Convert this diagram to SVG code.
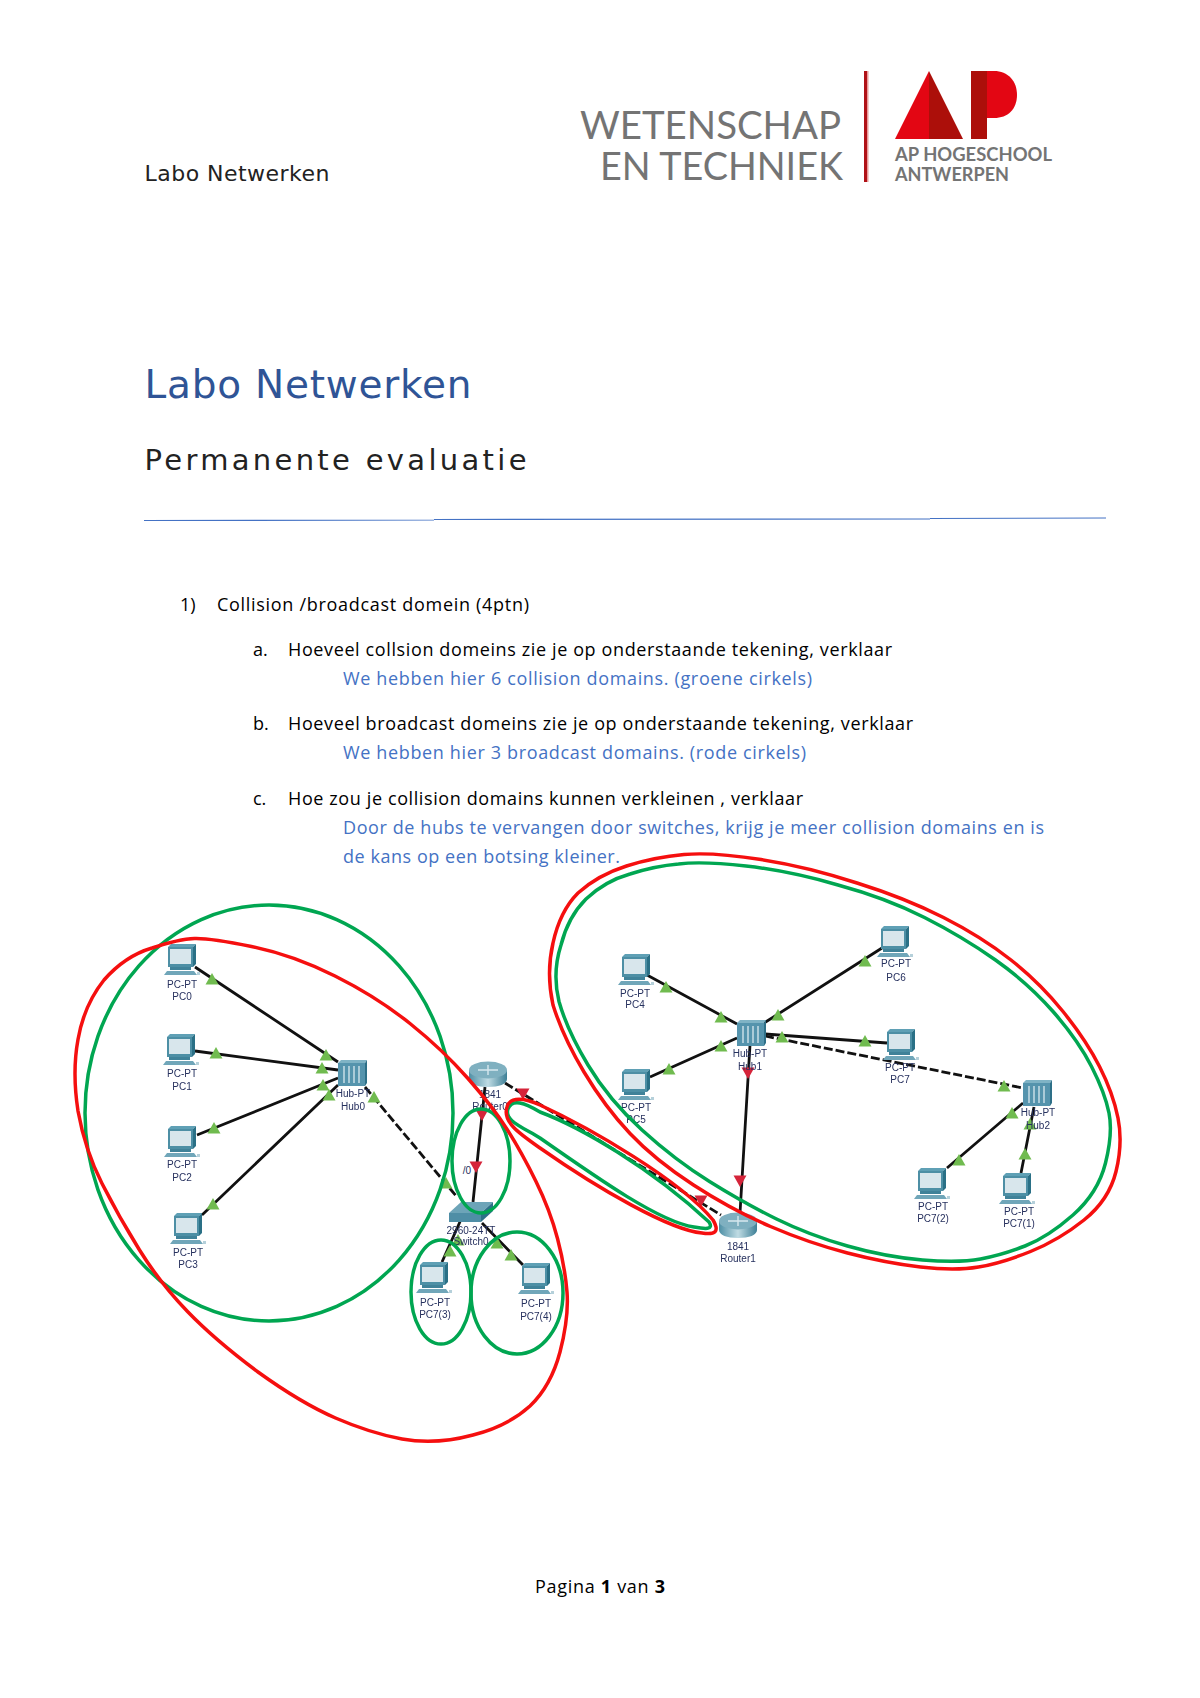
<svg xmlns="http://www.w3.org/2000/svg" width="1200" height="1698" viewBox="0 0 1200 1698">
<style>
.h{font-family:"DejaVu Sans",sans-serif;fill:#222}
.b{font-family:"Open Sans","Noto Sans",sans-serif;font-size:18px;fill:#000}
.bl{font-family:"Open Sans","Noto Sans",sans-serif;font-size:18px;fill:#4472c4}
.lb{font-family:"Liberation Sans",sans-serif;font-size:10px;fill:#26305e;text-anchor:middle}
.lg{font-family:Lato,sans-serif;fill:#747474}
.l{stroke:#111;stroke-width:2.8;fill:none}
.d{stroke:#111;stroke-width:2.8;fill:none;stroke-dasharray:9 3}
.g{fill:none;stroke:#00a651;stroke-width:3.5}
.r{fill:none;stroke:#f50f0f;stroke-width:3.5}
.tg{fill:#70bb4f}
.tr{fill:#d5243a}
.nw{filter:url(#soft)}
</style>
<defs>
<filter id="soft" x="0" y="0" width="1" height="1"><feGaussianBlur stdDeviation="0.45"/></filter>
<linearGradient id="rg" x1="0" x2="1" y1="0" y2="0"><stop offset="0" stop-color="#4d8fa5"/><stop offset=".5" stop-color="#bfdbe3"/><stop offset="1" stop-color="#3d7f96"/></linearGradient>
<g id="pc">
<polygon points="4,3 7,0 32,0 29,3" fill="#5fa0b5"/>
<polygon points="29,3 32,0 32,20 29,23" fill="#2a6f86"/>
<rect x="4" y="3" width="25" height="20" fill="#4d8fa5"/>
<rect x="6" y="5" width="21" height="15" fill="#d8e6ec"/>
<rect x="6" y="23" width="21" height="3" fill="#3f8299"/>
<polygon points="3,27 30,27 33,31 0,31" fill="#6fa6b9"/>
<rect x="33" y="28" width="3" height="3" fill="#b5d0da"/>
</g>
<g id="hub">
<polygon points="0,3 3,0 29,0 27,3" fill="#7fb3c5"/>
<rect x="0" y="3" width="27" height="23" fill="#5594ad"/>
<polygon points="27,3 29,0 29,23 27,26" fill="#2f7088"/>
<path d="M6 6V23M11 6V23M16 6V23M21 6V23" stroke="#cfe3ea" stroke-width="1.4"/>
</g>
<g id="router">
<path d="M0 9V18C0 23 8 26 19 26S38 23 38 18V9Z" fill="url(#rg)"/>
<ellipse cx="19" cy="9" rx="19" ry="8.5" fill="#7fb0c0"/>
<path d="M9 9H29M19 4V14" stroke="#d7e8ee" stroke-width="1.4"/>
</g>
<g id="switch">
<polygon points="0,11 12,0 44,0 32,11" fill="#6da4b8"/>
<polygon points="0,11 32,11 32,20 0,20" fill="#4f8ea6"/>
<polygon points="32,11 44,0 44,9 32,20" fill="#2f7088"/>
</g>
<polygon id="up" points="0,-6 6.5,5.5 -6.5,5.5"/>
<polygon id="dn" points="-6.5,-5.5 6.5,-5.5 0,6"/>
</defs>

<g id="header">
<text class="h" x="144.5" y="181" font-size="22" textLength="185">Labo Netwerken</text>
</g>
<g id="logo">
<text class="lg" x="580" y="139" font-size="38" textLength="261" lengthAdjust="spacingAndGlyphs">WETENSCHAP</text>
<text class="lg" x="600" y="180" font-size="38" textLength="243" lengthAdjust="spacingAndGlyphs">EN TECHNIEK</text>
<rect x="864" y="71" width="3" height="111" fill="#b01116"/>
<rect x="867" y="71" width="1.5" height="111" fill="#e89a9a"/>
<polygon points="895,139 929,71 929,139" fill="#e30613"/>
<polygon points="929,71 963,139 929,139" fill="#ac0f0a"/>
<path d="M987 71H994C1008 71 1017 81 1017 95S1008 118 994 118H987Z" fill="#e30613"/>
<rect x="971" y="71" width="16" height="68" fill="#ac0f0a"/>
<text class="lg" x="895" y="161" font-size="18.5" font-weight="700" textLength="157" lengthAdjust="spacingAndGlyphs">AP HOGESCHOOL</text>
<text class="lg" x="895" y="181" font-size="18.5" font-weight="700" textLength="114" lengthAdjust="spacingAndGlyphs">ANTWERPEN</text>
</g>
<g id="title">
<text x="144.5" y="398" font-family="DejaVu Sans,sans-serif" font-size="39" fill="#2f5496" textLength="327">Labo Netwerken</text>
<text class="h" x="144.5" y="470" font-size="29" textLength="382">Permanente evaluatie</text>
<path d="M144 520.5L434 520M434 519.5L930 519M930 518.5L1106 518" stroke="#4472c4" stroke-width="1.2" fill="none"/>
</g>
<g id="body">
<text class="b" x="180" y="611">1)</text>
<text class="b" x="217" y="611" textLength="312">Collision /broadcast domein (4ptn)</text>
<text class="b" x="253" y="656">a.</text>
<text class="b" x="288" y="656" textLength="604">Hoeveel collsion domeins zie je op onderstaande tekening, verklaar</text>
<text class="bl" x="343" y="685" textLength="469">We hebben hier 6 collision domains. (groene cirkels)</text>
<text class="b" x="253" y="730">b.</text>
<text class="b" x="288" y="730" textLength="625">Hoeveel broadcast domeins zie je op onderstaande tekening, verklaar</text>
<text class="bl" x="343" y="759" textLength="463">We hebben hier 3 broadcast domains. (rode cirkels)</text>
<text class="b" x="253" y="805">c.</text>
<text class="b" x="288" y="805" textLength="515">Hoe zou je collision domains kunnen verkleinen , verklaar</text>
<text class="bl" x="343" y="834" textLength="701">Door de hubs te vervangen door switches, krijg je meer collision domains en is</text>
<text class="bl" x="343" y="863" textLength="277">de kans op een botsing kleiner.</text>
</g>

<g id="connectors">
<path class="l" d="M195 967L338 1062M195 1051L338 1070M197 1135L338 1078M202 1215L338 1085"/>
<path class="d" d="M365 1087L457 1197"/>
<path class="l" d="M485 1087L473 1202M463 1215L442 1262M482 1223L523 1265"/>
<path class="d" d="M505 1083L721 1215"/>
<path class="l" d="M647 975L737 1024M882 948L764 1023M887 1043L765 1034M650 1077L737 1038M750 1045L740 1213M1023 1103L947 1168M1034 1107L1021 1173"/>
<path class="d" d="M765 1036L1023 1088"/>
</g>

<g id="link-lights">
<g class="tg">
<use href="#up" x="212" y="979"/><use href="#up" x="326" y="1055"/><use href="#up" x="216" y="1053"/><use href="#up" x="322" y="1068"/><use href="#up" x="214" y="1128"/><use href="#up" x="323" y="1085"/><use href="#up" x="329" y="1095"/><use href="#up" x="213" y="1204"/><use href="#up" x="374" y="1097"/><use href="#up" x="446" y="1183"/>
<use href="#up" x="450" y="1251"/><use href="#up" x="458" y="1240"/><use href="#up" x="497" y="1243"/><use href="#up" x="511" y="1255"/>
<use href="#up" x="666" y="987"/><use href="#up" x="721" y="1017"/><use href="#up" x="778" y="1015"/><use href="#up" x="865" y="961"/><use href="#up" x="721" y="1046"/><use href="#up" x="669" y="1069"/><use href="#up" x="782" y="1037"/><use href="#up" x="865" y="1041"/><use href="#up" x="1004" y="1086"/><use href="#up" x="1012" y="1113"/><use href="#up" x="959" y="1160"/><use href="#up" x="1030" y="1124"/><use href="#up" x="1025" y="1154"/>
</g>
<g class="tr">
<use href="#dn" x="523" y="1094"/><use href="#dn" x="482" y="1115"/><use href="#dn" x="476" y="1167"/><use href="#dn" x="748" y="1073"/><use href="#dn" x="740" y="1181"/><use href="#dn" x="701" y="1201"/>
</g>
</g>

<g id="PC0" class="nw"><use href="#pc" x="164" y="944"/><text class="lb" x="182" y="988">PC-PT</text><text class="lb" x="182" y="1000">PC0</text></g>
<g id="PC1" class="nw"><use href="#pc" x="163" y="1034"/><text class="lb" x="182" y="1077">PC-PT</text><text class="lb" x="182" y="1090">PC1</text></g>
<g id="PC2" class="nw"><use href="#pc" x="164" y="1126"/><text class="lb" x="182" y="1168">PC-PT</text><text class="lb" x="182" y="1181">PC2</text></g>
<g id="PC3" class="nw"><use href="#pc" x="170" y="1213"/><text class="lb" x="188" y="1256">PC-PT</text><text class="lb" x="188" y="1268">PC3</text></g>
<g id="Hub0" class="nw"><use href="#hub" x="338" y="1060"/><text class="lb" x="353" y="1097">Hub-PT</text><text class="lb" x="353" y="1110">Hub0</text></g>
<g id="Router0" class="nw"><use href="#router" x="469" y="1061"/><text class="lb" x="490" y="1098">1841</text><text class="lb" x="490" y="1110">Router0</text></g>
<g id="Switch0" class="nw"><use href="#switch" x="449" y="1202"/><text class="lb" x="471" y="1234">2960-24TT</text><text class="lb" x="471" y="1245">Switch0</text></g>
<text class="lb" x="467" y="1174">/0</text>
<g id="PC7-3" class="nw"><use href="#pc" x="416" y="1262"/><text class="lb" x="435" y="1306">PC-PT</text><text class="lb" x="435" y="1318">PC7(3)</text></g>
<g id="PC7-4" class="nw"><use href="#pc" x="518" y="1263"/><text class="lb" x="536" y="1307">PC-PT</text><text class="lb" x="536" y="1320">PC7(4)</text></g>
<g id="PC4" class="nw"><use href="#pc" x="618" y="954"/><text class="lb" x="635" y="997">PC-PT</text><text class="lb" x="635" y="1008">PC4</text></g>
<g id="PC6" class="nw"><use href="#pc" x="877" y="926"/><text class="lb" x="896" y="967">PC-PT</text><text class="lb" x="896" y="981">PC6</text></g>
<g id="PC7" class="nw"><use href="#pc" x="883" y="1029"/><text class="lb" x="900" y="1071">PC-PT</text><text class="lb" x="900" y="1083">PC7</text></g>
<g id="PC5" class="nw"><use href="#pc" x="618" y="1069"/><text class="lb" x="636" y="1111">PC-PT</text><text class="lb" x="636" y="1123">PC5</text></g>
<g id="Hub1" class="nw"><use href="#hub" x="737" y="1020"/><text class="lb" x="750" y="1057">Hub-PT</text><text class="lb" x="750" y="1070">Hub1</text></g>
<g id="Hub2" class="nw"><use href="#hub" x="1023" y="1080"/><text class="lb" x="1038" y="1116">Hub-PT</text><text class="lb" x="1038" y="1129">Hub2</text></g>
<g id="PC7-2" class="nw"><use href="#pc" x="914" y="1168"/><text class="lb" x="933" y="1210">PC-PT</text><text class="lb" x="933" y="1222">PC7(2)</text></g>
<g id="PC7-1" class="nw"><use href="#pc" x="999" y="1173"/><text class="lb" x="1019" y="1215">PC-PT</text><text class="lb" x="1019" y="1227">PC7(1)</text></g>
<g id="Router1" class="nw"><use href="#router" x="719" y="1212"/><text class="lb" x="738" y="1250">1841</text><text class="lb" x="738" y="1262">Router1</text></g>

<g id="domains">
<ellipse class="g" cx="269" cy="1113" rx="184" ry="208"/>
<ellipse class="g" cx="481" cy="1161" rx="29" ry="52"/>
<ellipse class="g" cx="441" cy="1292" rx="30" ry="52"/>
<ellipse class="g" cx="517" cy="1293" rx="46" ry="61"/>
<path class="g" d="M561 945Q568 917 586 899Q605 881 630 874Q655 866 678.5 864Q702 861 746 866Q790 871 838 885Q886 898 924.5 917.5Q963 937 995.5 960Q1028 983 1053 1011.5Q1078 1040 1091.5 1066.5Q1105 1093 1109 1113Q1113 1133 1105.5 1163Q1098 1193 1073 1215Q1048 1237 1025 1246Q1002 1255 980.5 1259Q959 1263 922.5 1260Q886 1257 847.5 1246Q809 1235 776.5 1219Q744 1203 709.5 1181.5Q675 1160 642 1130Q609 1100 588 1065Q567 1030 559 1001.5Q552 973 561 945Z"/>
<path class="g" d="M508 1109C512 1098 525 1103 540 1112C580 1127 650 1167 709 1222C714 1230 705 1229 694 1227C660 1222 600 1180 540 1138C520 1126 504 1120 508 1109Z"/>
<path class="r" d="M553 943Q560 911 578 893Q598 875 626.5 866Q655 857 684 854.5Q713 852 761 859.5Q809 867 857 883Q905 898 943.5 917.5Q982 937 1011 960Q1040 983 1063 1011.5Q1086 1040 1099.5 1066.5Q1113 1093 1118 1118Q1123 1143 1116 1171.5Q1109 1200 1084 1220Q1059 1240 1030.5 1251.5Q1002 1263 978.5 1267Q955 1271 920.5 1267Q886 1263 847.5 1253Q809 1243 770.5 1226.5Q732 1210 693.5 1185Q655 1160 630 1133.5Q605 1107 584 1072Q563 1037 553 1005Q546 973 553 943Z"/>
<path class="r" d="M507 1107C510 1096 525 1098 540 1105C590 1128 680 1180 713 1220C720 1232 715 1235 702 1233C670 1230 600 1190 540 1148C520 1134 502 1122 507 1107Z"/>
<path class="r" d="M78 1039.5Q84 1005 104 980Q125 956 152 948Q179 939 194.5 938.5Q210 938 251.5 946.5Q293 955 335 976Q377 997 410 1023.5Q443 1050 468 1078.5Q493 1107 507.5 1130Q522 1153 536 1181.5Q550 1210 557.5 1238.5Q565 1267 567 1292Q569 1317 560 1352Q551 1386 530 1406Q508 1426 473 1435Q436 1445 402 1439Q370 1433 335.5 1418Q301 1403 258 1372Q215 1340 187.5 1311.5Q160 1283 139.5 1250Q119 1217 102 1183.5Q85 1150 78 1111Q72 1072 78 1039.5Z"/>
</g>

<g id="footer">
<text class="b" x="535" y="1593" textLength="130">Pagina <tspan font-weight="700">1</tspan> van <tspan font-weight="700">3</tspan></text>
</g>
</svg>
